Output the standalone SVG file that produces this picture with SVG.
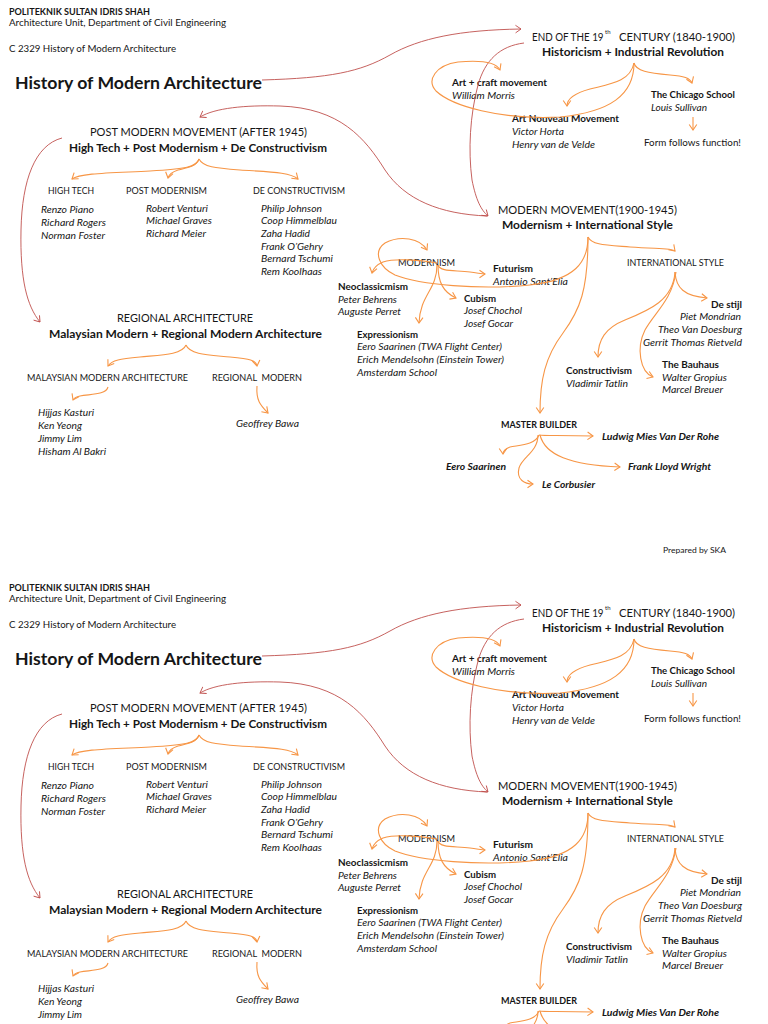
<svg xmlns="http://www.w3.org/2000/svg" xmlns:xlink="http://www.w3.org/1999/xlink" width="768" height="1024" viewBox="0 0 768 1024">
<style>
text{font-family:Lato,"Open Sans","Liberation Sans",sans-serif;fill:#161616;font-size:9.5px}
.b{font-weight:bold}
.i{font-style:italic}
.bi{font-weight:bold;font-style:italic}
.h{font-size:12px}
.hb{font-size:12px;font-weight:bold}
.ttl{font-size:17px;font-weight:bold}
.sm{font-size:8px}
.sup{font-size:6px}
.o{fill:none;stroke:#f79646;stroke-width:1.1;marker-end:url(#ao)}
.r{fill:none;stroke:#c0504d;stroke-width:0.9;marker-end:url(#ar)}
</style>
<defs>
<marker id="ao" viewBox="-7 -5 8 10" markerWidth="8" markerHeight="10" refX="0" refY="0" orient="auto" markerUnits="userSpaceOnUse"><path d="M-5.5,-3.8 L0,0 L-5.5,3.8" fill="none" stroke="#f79646" stroke-width="1.1"/></marker>
<marker id="ar" viewBox="-7 -5 8 10" markerWidth="8" markerHeight="10" refX="0" refY="0" orient="auto" markerUnits="userSpaceOnUse"><path d="M-5.5,-3.8 L0,0 L-5.5,3.8" fill="none" stroke="#c0504d" stroke-width="0.9"/></marker>
</defs>
<rect width="768" height="1024" fill="#fff"/>
<g id="page">
<g id="header">
<text class="b" x="9" y="15" textLength="141" lengthAdjust="spacingAndGlyphs">POLITEKNIK SULTAN IDRIS SHAH</text>
<text x="9" y="26" textLength="217" lengthAdjust="spacingAndGlyphs">Architecture Unit, Department of Civil Engineering</text>
<text x="9" y="52" textLength="167" lengthAdjust="spacingAndGlyphs">C 2329 History of Modern Architecture</text>
<text class="ttl" x="15" y="89" textLength="247" lengthAdjust="spacingAndGlyphs">History of Modern Architecture</text>
</g>
<g id="end19">
<text class="h" transform="translate(532,41) scale(0.82,1)" x="0" y="0">END OF THE 19</text>
<text class="sup" x="605" y="34">th</text>
<text class="h" x="619" y="41" textLength="116" lengthAdjust="spacingAndGlyphs">CENTURY (1840-1900)</text>
<text class="hb" x="542" y="56" textLength="182" lengthAdjust="spacingAndGlyphs">Historicism + Industrial Revolution</text>
</g>
<g id="artcraft">
<text class="b" x="452" y="86" textLength="95" lengthAdjust="spacingAndGlyphs">Art + craft movement</text>
<text class="i" x="452" y="99" textLength="63" lengthAdjust="spacingAndGlyphs">William Morris</text>
</g>
<g id="chicago">
<text class="b" x="651" y="98" textLength="84" lengthAdjust="spacingAndGlyphs">The Chicago School</text>
<text class="i" x="651" y="111" textLength="56" lengthAdjust="spacingAndGlyphs">Louis Sullivan</text>
</g>
<g id="artnouveau">
<text class="b" x="512" y="122" textLength="107" lengthAdjust="spacingAndGlyphs">Art Nouveau Movement</text>
<text class="i" x="512" y="135" textLength="52" lengthAdjust="spacingAndGlyphs">Victor Horta</text>
<text class="i" x="512" y="148" textLength="83" lengthAdjust="spacingAndGlyphs">Henry van de Velde</text>
</g>
<g id="formfollows">
<text x="644" y="146" textLength="97" lengthAdjust="spacingAndGlyphs">Form follows function!</text>
</g>
<g id="postmodern">
<text class="h" x="90" y="136" textLength="217" lengthAdjust="spacingAndGlyphs">POST MODERN MOVEMENT (AFTER 1945)</text>
<text class="hb" x="69" y="152" textLength="258" lengthAdjust="spacingAndGlyphs">High Tech + Post Modernism + De Constructivism</text>
</g>
<g id="hightech">
<text x="48" y="194" textLength="46" lengthAdjust="spacingAndGlyphs">HIGH TECH</text>
<text class="i" x="41" y="213" textLength="53" lengthAdjust="spacingAndGlyphs">Renzo Piano</text>
<text class="i" x="41" y="226" textLength="65" lengthAdjust="spacingAndGlyphs">Richard Rogers</text>
<text class="i" x="41" y="239" textLength="64" lengthAdjust="spacingAndGlyphs">Norman Foster</text>
</g>
<g id="postmodernism">
<text x="126" y="194" textLength="81" lengthAdjust="spacingAndGlyphs">POST MODERNISM</text>
<text class="i" x="146" y="212" textLength="62" lengthAdjust="spacingAndGlyphs">Robert Venturi</text>
<text class="i" x="146" y="224" textLength="66" lengthAdjust="spacingAndGlyphs">Michael Graves</text>
<text class="i" x="146" y="237" textLength="60" lengthAdjust="spacingAndGlyphs">Richard Meier</text>
</g>
<g id="deconstructivism">
<text x="253" y="194" textLength="92" lengthAdjust="spacingAndGlyphs">DE CONSTRUCTIVISM</text>
<text class="i" x="261" y="212" textLength="61" lengthAdjust="spacingAndGlyphs">Philip Johnson</text>
<text class="i" x="261" y="224" textLength="76" lengthAdjust="spacingAndGlyphs">Coop Himmelblau</text>
<text class="i" x="261" y="237" textLength="49" lengthAdjust="spacingAndGlyphs">Zaha Hadid</text>
<text class="i" x="261" y="250" textLength="62" lengthAdjust="spacingAndGlyphs">Frank O’Gehry</text>
<text class="i" x="261" y="262" textLength="72" lengthAdjust="spacingAndGlyphs">Bernard Tschumi</text>
<text class="i" x="261" y="275" textLength="61" lengthAdjust="spacingAndGlyphs">Rem Koolhaas</text>
</g>
<g id="regional">
<text class="h" x="117" y="322" textLength="136" lengthAdjust="spacingAndGlyphs">REGIONAL ARCHITECTURE</text>
<text class="hb" x="49" y="338" textLength="273" lengthAdjust="spacingAndGlyphs">Malaysian Modern + Regional Modern Architecture</text>
</g>
<g id="malaysian">
<text x="27" y="381" textLength="161" lengthAdjust="spacingAndGlyphs">MALAYSIAN MODERN ARCHITECTURE</text>
<text class="i" x="38" y="416" textLength="56" lengthAdjust="spacingAndGlyphs">Hijjas Kasturi</text>
<text class="i" x="38" y="429" textLength="44" lengthAdjust="spacingAndGlyphs">Ken Yeong</text>
<text class="i" x="38" y="442" textLength="44" lengthAdjust="spacingAndGlyphs">Jimmy Lim</text>
<text class="i" x="38" y="455" textLength="68" lengthAdjust="spacingAndGlyphs">Hisham Al Bakri</text>
</g>
<g id="regionalmodern">
<text x="212" y="381" textLength="90" lengthAdjust="spacingAndGlyphs" xml:space="preserve">REGIONAL  MODERN</text>
<text class="i" x="236" y="427" textLength="63" lengthAdjust="spacingAndGlyphs">Geoffrey Bawa</text>
</g>
<g id="modernmovement">
<text class="h" x="498" y="214" textLength="179" lengthAdjust="spacingAndGlyphs">MODERN MOVEMENT(1900-1945)</text>
<text class="hb" x="502" y="229" textLength="171" lengthAdjust="spacingAndGlyphs">Modernism + International Style</text>
</g>
<g id="modernism">
<text x="398" y="266" textLength="57" lengthAdjust="spacingAndGlyphs">MODERNISM</text>
</g>
<g id="futurism">
<text class="b" x="493" y="272" textLength="40" lengthAdjust="spacingAndGlyphs">Futurism</text>
<text class="i" x="493" y="285" textLength="75" lengthAdjust="spacingAndGlyphs">Antonio Sant’Elia</text>
</g>
<g id="neoclassicism">
<text class="b" x="338" y="290" textLength="70" lengthAdjust="spacingAndGlyphs">Neoclassicmism</text>
<text class="i" x="338" y="303" textLength="59" lengthAdjust="spacingAndGlyphs">Peter Behrens</text>
<text class="i" x="338" y="315" textLength="63" lengthAdjust="spacingAndGlyphs">Auguste Perret</text>
</g>
<g id="cubism">
<text class="b" x="464" y="302" textLength="32" lengthAdjust="spacingAndGlyphs">Cubism</text>
<text class="i" x="464" y="314" textLength="58" lengthAdjust="spacingAndGlyphs">Josef Chochol</text>
<text class="i" x="464" y="327" textLength="49" lengthAdjust="spacingAndGlyphs">Josef Gocar</text>
</g>
<g id="expressionism">
<text class="b" x="357" y="338" textLength="61" lengthAdjust="spacingAndGlyphs">Expressionism</text>
<text class="i" x="357" y="350" textLength="145" lengthAdjust="spacingAndGlyphs">Eero Saarinen (TWA Flight Center)</text>
<text class="i" x="357" y="363" textLength="147" lengthAdjust="spacingAndGlyphs">Erich Mendelsohn (Einstein Tower)</text>
<text class="i" x="357" y="376" textLength="80" lengthAdjust="spacingAndGlyphs">Amsterdam School</text>
</g>
<g id="international">
<text x="627" y="266" textLength="97" lengthAdjust="spacingAndGlyphs">INTERNATIONAL STYLE</text>
</g>
<g id="destijl" text-anchor="end">
<text class="b" x="742" y="308" textLength="31" lengthAdjust="spacingAndGlyphs">De stijl</text>
<text class="i" x="741" y="320" textLength="61" lengthAdjust="spacingAndGlyphs">Piet Mondrian</text>
<text class="i" x="742" y="333" textLength="84" lengthAdjust="spacingAndGlyphs">Theo Van Doesburg</text>
<text class="i" x="742" y="346" textLength="99" lengthAdjust="spacingAndGlyphs">Gerrit Thomas Rietveld</text>
</g>
<g id="bauhaus">
<text class="b" x="662" y="368" textLength="57" lengthAdjust="spacingAndGlyphs">The Bauhaus</text>
<text class="i" x="662" y="381" textLength="65" lengthAdjust="spacingAndGlyphs">Walter Gropius</text>
<text class="i" x="662" y="393" textLength="61" lengthAdjust="spacingAndGlyphs">Marcel Breuer</text>
</g>
<g id="constructivism">
<text class="b" x="566" y="374" textLength="66" lengthAdjust="spacingAndGlyphs">Constructivism</text>
<text class="i" x="566" y="387" textLength="62" lengthAdjust="spacingAndGlyphs">Vladimir Tatlin</text>
</g>
<g id="masterbuilder">
<text class="b" x="501" y="428" textLength="76" lengthAdjust="spacingAndGlyphs">MASTER BUILDER</text>
</g>
<g id="mies"><text class="bi" x="602" y="440" textLength="117" lengthAdjust="spacingAndGlyphs">Ludwig Mies Van Der Rohe</text></g>
<g id="eero"><text class="bi" x="446" y="470" textLength="60" lengthAdjust="spacingAndGlyphs">Eero Saarinen</text></g>
<g id="corbusier"><text class="bi" x="542" y="488" textLength="53" lengthAdjust="spacingAndGlyphs">Le Corbusier</text></g>
<g id="wright"><text class="bi" x="628" y="470" textLength="83" lengthAdjust="spacingAndGlyphs">Frank Lloyd Wright</text></g>
<g id="footer"><text class="sm" x="663" y="553" textLength="63" lengthAdjust="spacingAndGlyphs">Prepared by SKA</text></g>
<g id="connectors">
<path class="r" d="M262,80 C330,78 360,72 390,55 C420,38 460,30 521,29"/>
<path class="r" d="M524,43 C500,46 485,60 478,85 C470,115 468,150 472,180 C476,200 481,210 488,216"/>
<path class="r" d="M487,216 C440,214 405,200 385,170 C365,138 340,108 280,106 C245,105 215,108 200,117"/>
<path class="r" d="M62,138 C35,145 22,180 21,230 C20,280 27,306 40,322"/>
<path class="o" d="M634,63 C636,71 648,73 670,75 C684,76 690,78 692,83"/>
<path class="o" d="M634,63 C630,82 610,84 590,89 C575,93 567,98 567,106"/>
<path class="o" d="M634,63 C634,95 610,112 560,117 C500,120 452,106 436,91 C426,80 436,65 458,62 C480,60 496,62 500,70"/>
<path class="o" d="M693,117 L693,130"/>
<path class="o" d="M199,159 C197,167 185,169 150,171 C110,173 80,173 72,179"/>
<path class="o" d="M199,159 C196,167 186,168 178,170 C172,172 169,174 168,178"/>
<path class="o" d="M199,159 C203,167 215,168 240,170 C270,172 290,172 298,179"/>
<path class="o" d="M186,345 C182,355 160,355 140,357 C120,359 112,360 108,366"/>
<path class="o" d="M186,345 C190,355 210,355 230,357 C250,359 256,360 257,366"/>
<path class="o" d="M108,387 C106,395 90,394 80,396 C76,397 74,398 73,400"/>
<path class="o" d="M257,386 C256,400 260,405 268,413"/>
<path class="o" d="M588,237 C592,245 605,245 630,247 C660,249 672,248 675,251"/>
<path class="o" d="M588,237 C588,262 575,280 530,285 C480,290 420,285 395,275 C380,268 372,252 385,243 C400,235 420,238 427,250"/>
<path class="o" d="M588,237 C588,290 580,310 563,333 C545,357 540,380 540,413"/>
<path class="o" d="M437,263 C420,260 395,258 383,262 C376,265 373,269 372,273"/>
<path class="o" d="M438,265 C440,272 455,270 470,272 C478,273 482,274 485,274"/>
<path class="o" d="M438,265 C438,282 443,292 456,298"/>
<path class="o" d="M437,265 C437,290 420,295 419,323"/>
<path class="o" d="M675,272 C676,288 684,296 707,298"/>
<path class="o" d="M675,272 C673,300 650,310 625,320 C605,328 598,340 598,357"/>
<path class="o" d="M676,272 C672,300 655,312 645,330 C636,348 640,372 653,377"/>
<path class="o" d="M539,435 C545,436 560,435 593,436"/>
<path class="o" d="M539,435 C535,445 520,445 510,447 C505,449 503,451 503,454"/>
<path class="o" d="M538,435 C538,452 522,457 519,468 C516,480 525,484 533,484"/>
<path class="o" d="M540,435 C545,455 570,465 620,467"/>
</g>
</g>
<use xlink:href="#page" href="#page" transform="translate(0,576)"/>
</svg>
